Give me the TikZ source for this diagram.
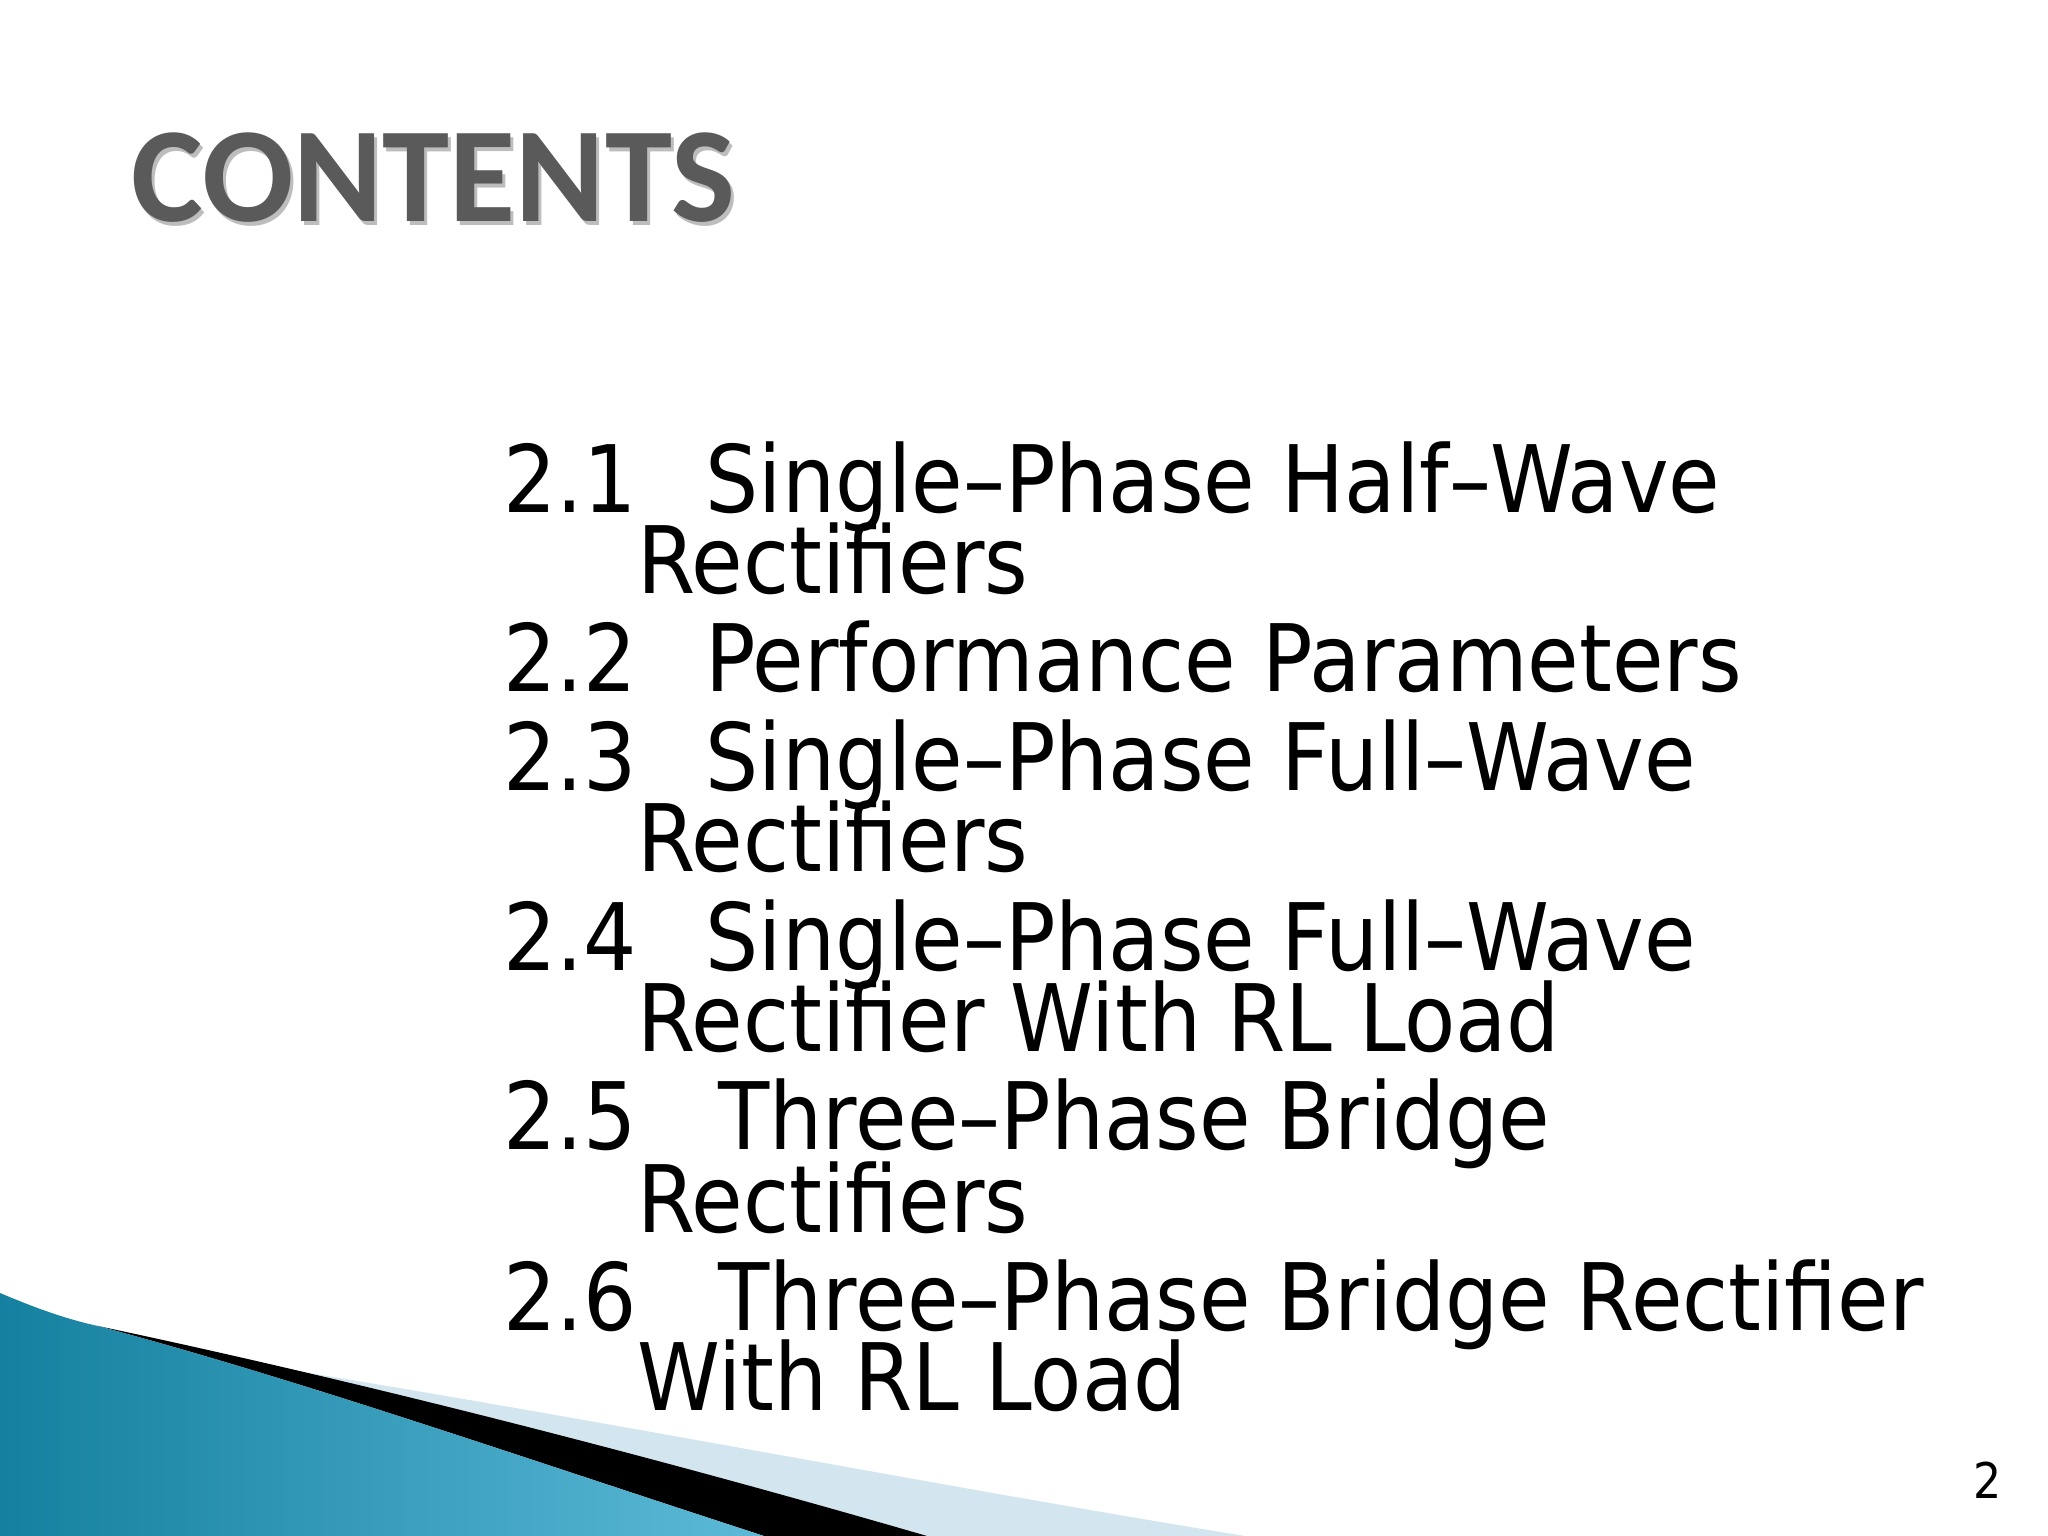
\documentclass[tikz,border=0pt]{standalone}
\usepackage{fontspec}
\setmainfont{DejaVu Sans Condensed}
\newfontfamily\titlefont{Carlito}
\definecolor{titlegrey}{HTML}{5A5A5A}
\definecolor{shadowgrey}{HTML}{BDBDBD}
\definecolor{deepblue}{HTML}{15809F}
\definecolor{brightblue}{HTML}{5CBAD8}
\definecolor{paleblue}{HTML}{D3E6EF}
\tikzset{
  item/.style={anchor=base west, inner sep=0pt, font=\fontsize{26.5}{30}\selectfont},
  titletext/.style={anchor=base west, inner sep=0pt, font=\titlefont\bfseries\fontsize{38.5}{40}\selectfont},
}
\begin{document}
\begin{tikzpicture}[x=1cm,y=1cm]
\useasboundingbox (0,0) rectangle (20.48,-15.36);
\fill[white] (0,0) rectangle (20.48,-15.36);
% decoration
\fill[paleblue] (1.3,-13.45) .. controls (5,-14.0) and (9,-14.8) .. (12.45,-15.36) -- (9.27,-15.36) -- cycle;
\fill[black] (0.98,-13.26) .. controls (4,-13.9) and (7,-14.7) .. (9.27,-15.36) -- (7.64,-15.36) .. controls (5,-14.5) and (3,-13.8) .. cycle;
\shade[left color=deepblue, right color=brightblue] (0,-12.93) .. controls (0.4,-13.1) and (0.7,-13.2) .. (0.98,-13.26) .. controls (3,-13.8) and (5,-14.5) .. (7.64,-15.36) -- (0,-15.36) -- cycle;
% title
\node[titletext, text=shadowgrey] (titleshadow) at (1.34,-2.26) {CONTENTS};
\node[titletext, text=titlegrey] (title) at (1.31,-2.22) {CONTENTS};
% items
\node[item] (n1) at (5.03,-5.13) {2.1};
\node[item] (t1) at (7.05,-5.13) {Single–Phase Half–Wave};
\node[item] (c1) at (6.37,-5.94) {Rectifiers};
\node[item] (n2) at (5.03,-6.92) {2.2};
\node[item] (t2) at (7.05,-6.92) {Performance Parameters};
\node[item] (n3) at (5.03,-7.90) {2.3};
\node[item] (t3) at (7.05,-7.90) {Single–Phase Full–Wave};
\node[item] (c3) at (6.37,-8.71) {Rectifiers};
\node[item] (n4) at (5.03,-9.70) {2.4};
\node[item] (t4) at (7.05,-9.70) {Single–Phase Full–Wave};
\node[item] (c4) at (6.37,-10.51) {Rectifier With RL Load};
\node[item] (n5) at (5.03,-11.49) {2.5};
\node[item] (t5) at (7.18,-11.49) {Three–Phase Bridge};
\node[item] (c5) at (6.37,-12.32) {Rectifiers};
\node[item] (n6) at (5.03,-13.30) {2.6};
\node[item] (t6) at (7.18,-13.30) {Three–Phase Bridge Rectifier};
\node[item] (c6) at (6.37,-14.10) {With RL Load};
\node[anchor=base, inner sep=0pt, font=\fontsize{14}{16}\selectfont] (page) at (19.88,-14.98) {2};
\end{tikzpicture}
\end{document}
